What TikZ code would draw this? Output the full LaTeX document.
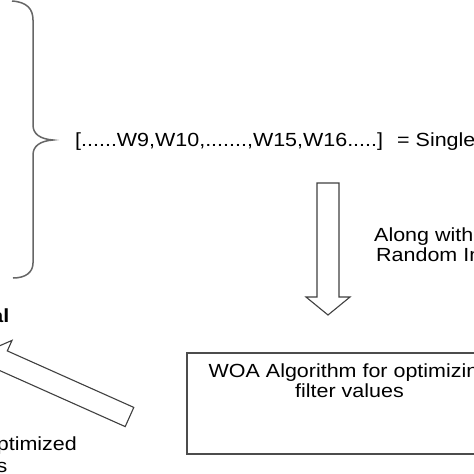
\documentclass[tikz,border=0pt]{standalone}
\usepackage{fontspec}
\setmainfont{Liberation Sans}[FakeStretch=1.13]
\begin{document}
\begin{tikzpicture}[x=1pt,y=-1pt,
  lbl/.style={inner sep=0pt,font=\fontsize{19}{24}\selectfont,text=black},
  shapeline/.style={draw=black!75,line width=1.1pt,line join=miter},
  bracestyle/.style={draw=black!60,line width=1.5pt}]
\useasboundingbox (0,0) rectangle (474,474);
\clip (0,0) rectangle (474,474);
\fill[white] (0,0) rectangle (474,474);
% brace
\draw[bracestyle] (12,1) .. controls (27,2) and (33,9) .. (33,20) -- (33,125)
  .. controls (33,134) and (40,139) .. (53,140)
  .. controls (40,141) and (33,146) .. (33,155) -- (33,263)
  .. controls (33,272) and (26,278) .. (13,278);
% texts
\node[lbl,anchor=base west] (vec) at (75,146) {[......W9,W10,.......,W15,W16.....]};
\node[lbl,anchor=base west] (single) at (397,146) {= Single};
\node[lbl,anchor=base west] (along) at (374,241) {Along with};
\node[lbl,anchor=base west] (rand) at (376,261) {Random In};
\node[lbl,anchor=base east,font=\fontsize{19}{24}\selectfont\bfseries] (opt) at (9.5,322) {al};
\node[lbl,anchor=base east] (optd) at (77,450) {ptimized};
\node[lbl,anchor=base east] (vals) at (7.5,472) {s};
% WOA box
\draw[draw=black!70,line width=1.1pt] (187,353) rectangle (520,454);
\node[lbl,align=center,anchor=base] (woa) at (349.5,397) {WOA Algorithm for optimizing\\[-4pt]filter values};
% down block arrow
\coordinate (d1) at (317,183);
\coordinate (d2) at (339,183);
\draw[shapeline] (d1) -- (d2) -- (339,297) -- (350,297) -- (328,315) -- (306,297) -- (317,297) -- cycle;
% diagonal block arrow
\draw[shapeline] (133.8,407.4) -- (7.3,350.9) -- (12.0,340.4) -- (-15.3,352.3)
  -- (-6.0,380.6) -- (-1.3,370.1) -- (125.2,426.6) -- cycle;
\end{tikzpicture}
\end{document}
